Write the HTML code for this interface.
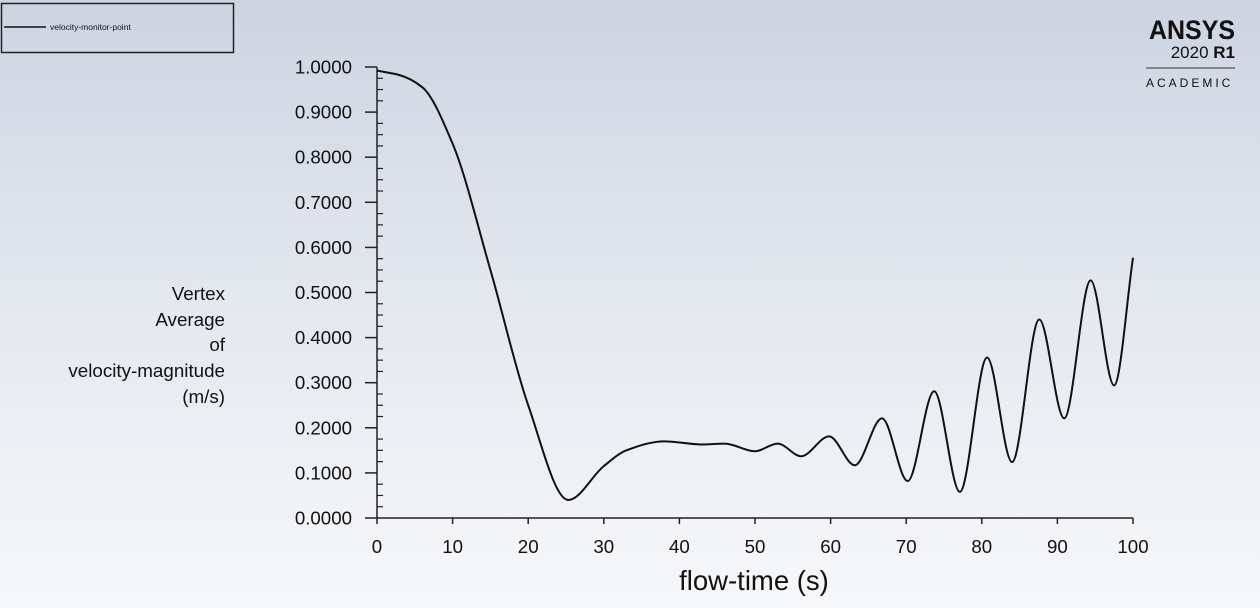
<!DOCTYPE html>
<html><head><meta charset="utf-8"><style>
html,body{margin:0;padding:0}
body{width:1260px;height:608px;overflow:hidden;background:linear-gradient(to bottom,#cdd4e2 0%,#e4e8ef 50%,#f7f8fa 100%);font-family:"Liberation Sans",sans-serif}
svg{position:absolute;left:0;top:0}
</style></head><body>
<svg id="chart" width="1260" height="608">
  <g>
    <rect x="1.5" y="3.5" width="232" height="49" fill="none" stroke="#222" stroke-width="1.5"/>
    <line x1="4" y1="27" x2="46" y2="27" stroke="#111" stroke-width="1.5"/>
    <text x="50" y="30" font-size="8.5" fill="#111">velocity-monitor-point</text>
  </g>
  <g>
    <text x="1235" y="39" text-anchor="end" font-size="27" font-weight="bold" fill="#111" textLength="86" lengthAdjust="spacingAndGlyphs">ANSYS</text>
    <text x="1235" y="58" text-anchor="end" font-size="17" fill="#111">2020 <tspan font-weight="bold">R1</tspan></text>
    <line x1="1146" y1="68" x2="1235" y2="68" stroke="#333" stroke-width="1"/>
    <text x="1146" y="87" font-size="12" fill="#111" letter-spacing="3">ACADEMIC</text>
  </g>
  <g id="axes"></g>
  <path id="series" fill="none" stroke="#111" stroke-width="2"/>
  <g font-size="18.8" fill="#111" text-anchor="end">
    <text x="225" y="300">Vertex</text>
    <text x="225" y="326">Average</text>
    <text x="225" y="351">of</text>
    <text x="225" y="377">velocity-magnitude</text>
    <text x="225" y="403">(m/s)</text>
  </g>
  <text x="754" y="590" text-anchor="middle" font-size="27.5" fill="#111">flow-time (s)</text>
</svg>
<script>
const times=[0,3,6,10,15,20,25.3,30,33,38,43,46,50,53,56.1,59.8,63.2,66.8,70.2,73.7,77.1,80.7,84,87.6,90.9,94.4,97.5,100];
const velocity=[0.992,0.982,0.955,0.83,0.55,0.25,0.04,0.115,0.15,0.17,0.163,0.165,0.148,0.165,0.137,0.181,0.117,0.221,0.082,0.281,0.058,0.356,0.124,0.44,0.221,0.527,0.294,0.577];
const xTicks=[0,10,20,30,40,50,60,70,80,90,100];
const yTicks=[0,0.1,0.2,0.3,0.4,0.5,0.6,0.7,0.8,0.9,1.0];
const NS="http://www.w3.org/2000/svg";
const X0=377,X1=1133,Y0=518,Y1=67;
function sx(t){return X0+(t-0)/(100-0)*(X1-X0);}
function sy(v){return Y0-(v-0)/(1-0)*(Y0-Y1);}
const axes=document.getElementById('axes');
function mk(tag,attrs){const e=document.createElementNS(NS,tag);for(const k in attrs)e.setAttribute(k,attrs[k]);axes.appendChild(e);return e;}
let a=mk('line',{x1:X0,y1:sy(0),x2:X0,y2:sy(1),stroke:'#222','stroke-width':1.5});


a=mk('line',{x1:X0,y1:Y0,x2:X1,y2:Y0,stroke:'#222','stroke-width':1.5});


yTicks.forEach(v=>{
  const y=sy(v);
  const t=mk('line',{x1:X0-12,y1:y,x2:X0,y2:y,stroke:'#222','stroke-width':1.5});
  
  
  const l=mk('text',{x:X0-25,y:y+6.5,'text-anchor':'end','font-size':18.7,fill:'#111'});
  l.textContent=v.toFixed(4);
  
  
});
for(let i=0;i<40;i++){
  if(i%4===0)continue;
  const y=sy(i*0.025);
  const m=mk('line',{x1:X0,y1:y,x2:X0+6,y2:y,stroke:'#222','stroke-width':1.2});
  
  
}
xTicks.forEach(v=>{
  const x=sx(v);
  const t=mk('line',{x1:x,y1:Y0,x2:x,y2:Y0+6,stroke:'#222','stroke-width':1.5});
  
  
  const l=mk('text',{x:x,y:Y0+35,'text-anchor':'middle','font-size':18.7,fill:'#111'});
  l.textContent=v;
  
  
});
// monotone cubic interpolation
const n=times.length,xs=times.map(sx),ys=velocity.map(sy);
const d=[],m=[];
for(let i=0;i<n-1;i++)d.push((ys[i+1]-ys[i])/(xs[i+1]-xs[i]));
m[0]=d[0];m[n-1]=d[n-2];
for(let i=1;i<n-1;i++){
  if(d[i-1]*d[i]<=0)m[i]=0;
  else{const w1=2*(xs[i+1]-xs[i])+(xs[i]-xs[i-1]),w2=(xs[i+1]-xs[i])+2*(xs[i]-xs[i-1]);m[i]=(w1+w2)/(w1/d[i-1]+w2/d[i]);}
}
let p='M'+xs[0]+','+ys[0];
for(let i=0;i<n-1;i++){
  const h=(xs[i+1]-xs[i])/3;
  p+=' C'+(xs[i]+h)+','+(ys[i]+m[i]*h)+' '+(xs[i+1]-h)+','+(ys[i+1]-m[i+1]*h)+' '+xs[i+1]+','+ys[i+1];
}
document.getElementById('series').setAttribute('d',p);
</script>
</body></html>
